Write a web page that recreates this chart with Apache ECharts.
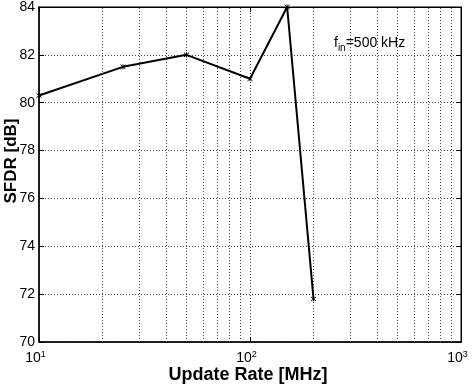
<!DOCTYPE html>
<html>
<head>
<meta charset="utf-8">
<script src="https://cdn.jsdelivr.net/npm/echarts@6/dist/echarts.min.js"></script>
<style>html,body{margin:0;padding:0;background:#fff}#c{width:474px;height:388px}</style>
</head>
<body>
<div id="c"></div>
<script>
// Data
var updateRateMHz = [10, 25, 50, 100, 150, 200];
var sfdrDb = [80.3, 81.5, 82, 81, 84, 71.8];
// Axis settings / tick values
var yTicksMin = 70, yTicksMax = 84, yTickStep = 2;
var xMin = 10, xMax = 1000;
var minorXGrid = [20, 30, 40, 50, 60, 70, 80, 90, 200, 300, 400, 500, 600, 700, 800, 900];
var xTitle = 'Update Rate [MHz]';
var yTitle = 'SFDR [dB]';

var FONT = '"Liberation Sans", Arial, Helvetica, sans-serif';
var chart = echarts.init(document.getElementById('c'), null, {renderer: 'canvas'});

var gridDot = {type: [1, 2], color: '#444', width: 1};
var asterisk = 'path://M0,0L10,10M10,0L0,10M5,-1L5,11';

function expLabel(v) {
  var e = Math.round(Math.log(v) / Math.LN10);
  return '{b|10}{s|' + e + '}';
}

var option = {
  animation: false,
  backgroundColor: '#fff',
  grid: {left: 39, right: 13, top: 6, bottom: 46, show: true, borderColor: '#000', borderWidth: 1, containLabel: false},
  xAxis: [{
    type: 'log', logBase: 10, min: xMin, max: xMax, position: 'bottom',
    axisLine: {show: true, onZero: false, lineStyle: {color: '#000', width: 1.5}},
    axisTick: {show: true, inside: true, length: 5, lineStyle: {color: '#000'}},
    axisLabel: {
      show: true, margin: 8, formatter: expLabel, padding: [0, 7, 0, 0],
      rich: {
        b: {fontFamily: FONT, fontSize: 14, color: '#000', lineHeight: 17},
        s: {fontFamily: FONT, fontSize: 9, color: '#000', lineHeight: 9, verticalAlign: 'top'}
      }
    },
    splitLine: {show: true, lineStyle: gridDot}
  }, {
    type: 'log', logBase: 10, min: xMin, max: xMax, position: 'top',
    axisLine: {show: true, onZero: false, lineStyle: {color: '#000', width: 1}},
    axisTick: {show: true, inside: true, length: 5, lineStyle: {color: '#000'}},
    axisLabel: {show: false},
    splitLine: {show: false}
  }],
  yAxis: [{
    type: 'value', min: yTicksMin, max: yTicksMax, interval: yTickStep, position: 'left',
    axisLine: {show: true, onZero: false, lineStyle: {color: '#000', width: 1.5}},
    axisTick: {show: true, inside: true, length: 5, lineStyle: {color: '#000'}},
    axisLabel: {show: true, margin: 4, color: '#000', fontFamily: FONT, fontSize: 14},
    splitLine: {show: true, lineStyle: gridDot}
  }, {
    type: 'value', min: yTicksMin, max: yTicksMax, interval: yTickStep, position: 'right',
    axisLine: {show: true, onZero: false, lineStyle: {color: '#000', width: 1}},
    axisTick: {show: true, inside: true, length: 5, lineStyle: {color: '#000'}},
    axisLabel: {show: false},
    splitLine: {show: false}
  }],
  series: [{
    type: 'line',
    xAxisIndex: 0, yAxisIndex: 0,
    data: updateRateMHz.map(function (x, i) { return [x, sfdrDb[i]]; }),
    clip: false,
    symbol: asterisk,
    symbolSize: 5,
    showSymbol: true,
    itemStyle: {color: '#000', borderColor: '#000', borderWidth: 1},
    lineStyle: {color: '#000', width: 2},
    z: 5,
    markLine: {
      silent: true, symbol: 'none', label: {show: false},
      lineStyle: gridDot,
      z: 1,
      data: minorXGrid.map(function (v) { return {xAxis: v}; })
    }
  }],
  graphic: [
    {type: 'text', x: 248, y: 375, z: 10,
      style: {text: xTitle, font: 'bold 18px ' + FONT, fill: '#000', align: 'center', verticalAlign: 'middle', textAlign: 'center', textVerticalAlign: 'middle'}},
    {type: 'text', x: 11, y: 161, rotation: Math.PI / 2, z: 10,
      style: {text: yTitle, font: 'bold 17px ' + FONT, fill: '#000', align: 'center', verticalAlign: 'middle', textAlign: 'center', textVerticalAlign: 'middle'}},
    {type: 'text', x: 334, y: 34, z: 10,
      style: {
        text: '{a|f}{b|in}{a|=500 kHz}',
        rich: {
          a: {fontFamily: FONT, fontSize: 14, fill: '#000', color: '#000', lineHeight: 19},
          b: {fontFamily: FONT, fontSize: 10, fill: '#000', color: '#000', lineHeight: 10, verticalAlign: 'bottom'}
        }
      }}
  ]
};
chart.setOption(option);
</script>
</body>
</html>
